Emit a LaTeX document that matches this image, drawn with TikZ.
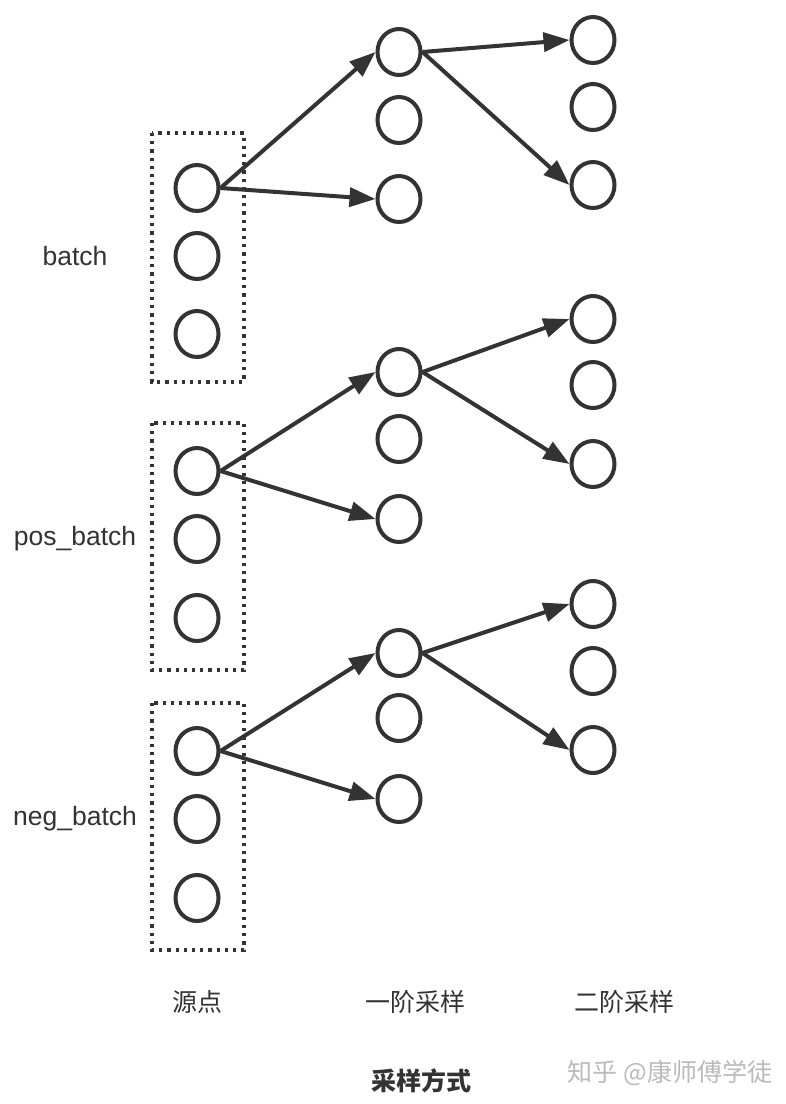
\documentclass[tikz,border=0pt]{standalone}
\usepackage{fontspec}
\setmainfont{Liberation Sans}
\newfontfamily\cjk{Noto Sans CJK SC}
\usetikzlibrary{arrows.meta,shapes.geometric}
\definecolor{ink}{HTML}{333333}
\definecolor{wm}{HTML}{BBBBBB}
\tikzset{
  dot/.style={ellipse,draw=ink,line width=4pt,minimum width=43pt,minimum height=46pt,inner sep=0pt},
  edge/.style={draw=ink,line width=4pt,-{Triangle[length=26pt,width=19pt]}},
  grp/.style={draw=ink,line width=3.2pt,dash pattern=on 3.2pt off 5pt},
  lbl/.style={text=ink,font=\fontsize{26.5}{30}\selectfont,inner sep=0pt},
  clbl/.style={text=ink,font=\cjk\fontsize{25}{28}\selectfont,inner sep=0pt}
}
\begin{document}
\begin{tikzpicture}[x=1pt,y=-1pt]
\useasboundingbox[fill=white] (0,0) rectangle (786,1104);
\foreach \g/\sa/\sb/\sc/\fa/\fb/\fc/\ta/\tb/\tc/\bt/\bb/\lab in {
  1/188/256/334/52/120/199/40/107/185/133/382/batch,
  2/471/539/618/372/439/519/319/385/464/423/670/pos\_batch,
  3/751/819/898/653/718/799/604/671/750/703/950/neg\_batch}{
  \draw[grp] (152,\bt) rectangle (244,\bb);
  \node[dot] (s\g a) at (197,\sa) {};
  \node[dot] (s\g b) at (197,\sb) {};
  \node[dot] (s\g c) at (197,\sc) {};
  \node[dot] (f\g a) at (399,\fa) {};
  \node[dot] (f\g b) at (399,\fb) {};
  \node[dot] (f\g c) at (399,\fc) {};
  \node[dot] (t\g a) at (593,\ta) {};
  \node[dot] (t\g b) at (593,\tb) {};
  \node[dot] (t\g c) at (593,\tc) {};
  \node[lbl] (l\g) at (75,\sb) {\lab};
  \draw[edge] (s\g a.east) -- (f\g a.west);
  \draw[edge] (s\g a.east) -- (f\g c.west);
  \draw[edge] (f\g a.east) -- (t\g a.west);
  \draw[edge] (f\g a.east) -- (t\g c.west);
}
\node[clbl] (c1) at (197,1002) {源点};
\node[clbl] (c2) at (415,1002) {一阶采样};
\node[clbl] (c3) at (624,1002) {二阶采样};
\node[clbl,font=\cjk\bfseries\fontsize{25}{28}\selectfont] (ttl) at (421,1081) {采样方式};
\node[clbl,text=wm] (wmk) at (670,1073) {知乎 @康师傅学徒};
\end{tikzpicture}
\end{document}
